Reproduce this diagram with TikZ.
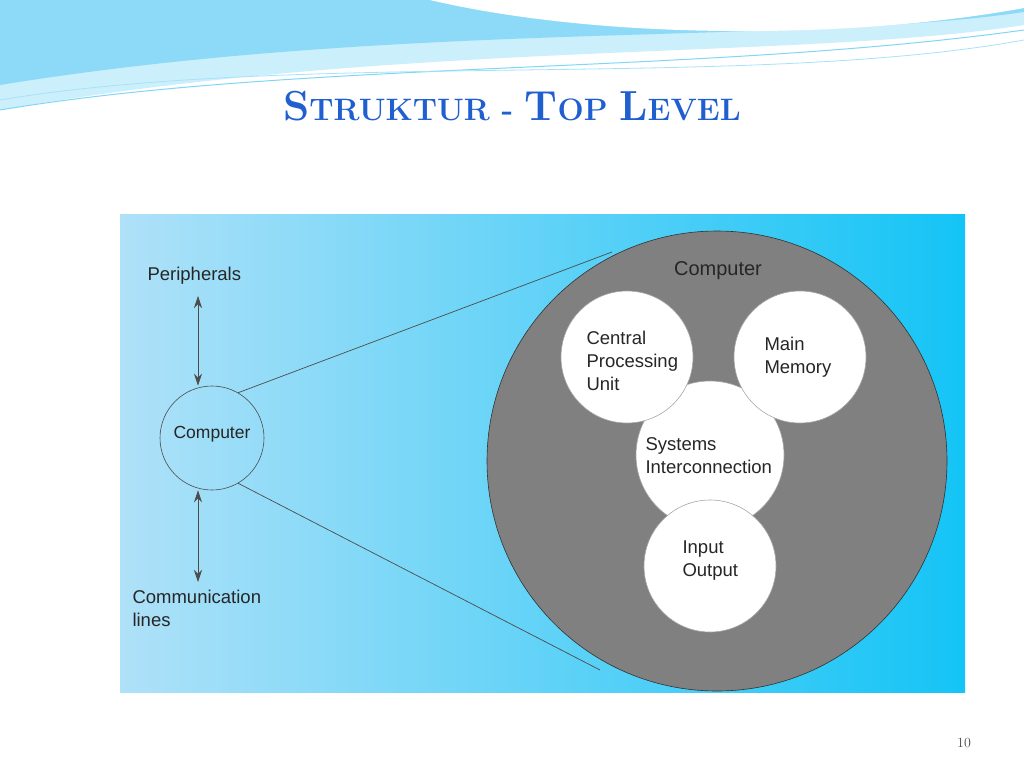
\documentclass[tikz,border=0pt]{standalone}
\usepackage{fontspec}
\setsansfont{Liberation Sans}
\usetikzlibrary{arrows.meta}
\newcommand{\bigc}[1]{{\fontsize{42}{48}\selectfont #1}}
\begin{document}
\begin{tikzpicture}[x=1pt,y=-1pt,
  lbl/.style={font=\sffamily\fontsize{18.5}{23}\selectfont, text=black!85, align=left},
  wc/.style={circle, fill=white, draw=gray!70, line width=0.6pt},
  thin/.style={draw=black!70, line width=0.7pt},
  arr/.style={thin, {Stealth[length=12pt,width=8pt]}-{Stealth[length=12pt,width=8pt]}}]
\useasboundingbox (0,0) rectangle (1024,768);
\fill[white] (0,0) rectangle (1024,768);
% top swooshes
\fill[cyan!20] (0,0) -- (1024,0) -- (1024,25) .. controls (800,60) and (400,40) .. (0,110) -- cycle;
\fill[cyan!45] (0,0) -- (1024,0) -- (1024,12) .. controls (800,45) and (400,20) .. (0,85) -- cycle;
\fill[white] (430,0) .. controls (600,40) and (850,40) .. (1024,8) -- (1024,0) -- cycle;
\draw[cyan!50, line width=1pt] (0,110) .. controls (300,60) and (700,75) .. (1024,30);
\draw[cyan!35, line width=0.8pt] (0,100) .. controls (300,50) and (750,90) .. (1024,40);
% title
\node (title) at (512,106) {\fontsize{31}{40}\selectfont\bfseries\color[HTML]{1F5FD0}\bigc{S}TRUKTUR - \bigc{T}OP \bigc{L}EVEL};
% panel
\shade[shading=axis, shading angle=120, left color={rgb,255:red,175;green,225;blue,248}, right color={rgb,255:red,20;green,196;blue,246}] (120,214) rectangle (965,692);
% big circle
\begin{scope}
\clip (120,214) rectangle (965,692);
\node[circle, minimum size=460pt, fill=black!50, draw=black!80, line width=0.6pt] (big) at (717,461) {};
\end{scope}
\node[lbl, font=\sffamily\fontsize{20}{24}\selectfont] (bigl) at (718,271) {Computer};
\node[wc, minimum size=148pt] (sys) at (710,455) {};
\node[wc, minimum size=132pt] (cpu) at (627,357) {};
\node[wc, minimum size=132pt] (mem) at (800,357) {};
\node[wc, minimum size=132pt] (io) at (710,566) {};
\node[lbl, anchor=west] at (583,361) {Central\\Processing\\Unit};
\node[lbl, anchor=west] at (761,357) {Main\\Memory};
\node[lbl, anchor=west] at (642,456) {Systems\\Interconnection};
\node[lbl, anchor=west] at (679,561) {Input\\Output};
% small computer
\node[circle, minimum size=104pt, draw=black!70, line width=0.6pt] (comp) at (212,438) {};
\node[lbl, font=\sffamily\fontsize{17.5}{22}\selectfont] at (212,434) {Computer};
\coordinate (t1) at (612,252);
\coordinate (t2) at (600,670);
\draw[thin] (comp.60) -- (t1);
\draw[thin] (comp.-60) -- (t2);
\node[lbl, anchor=west] (per) at (144,276) {Peripherals};
\node[lbl, anchor=west] (com) at (129,608) {Communication\\lines};
\coordinate (a1) at (198,296);
\coordinate (a2) at (198,582);
\draw[arr] (a1) -- (comp.north -| a1);
\draw[arr] (comp.south -| a1) -- (a2);
\node[font=\fontsize{14}{16}\selectfont, text=black!70] (pg) at (964,743) {10};
\end{tikzpicture}
\end{document}
